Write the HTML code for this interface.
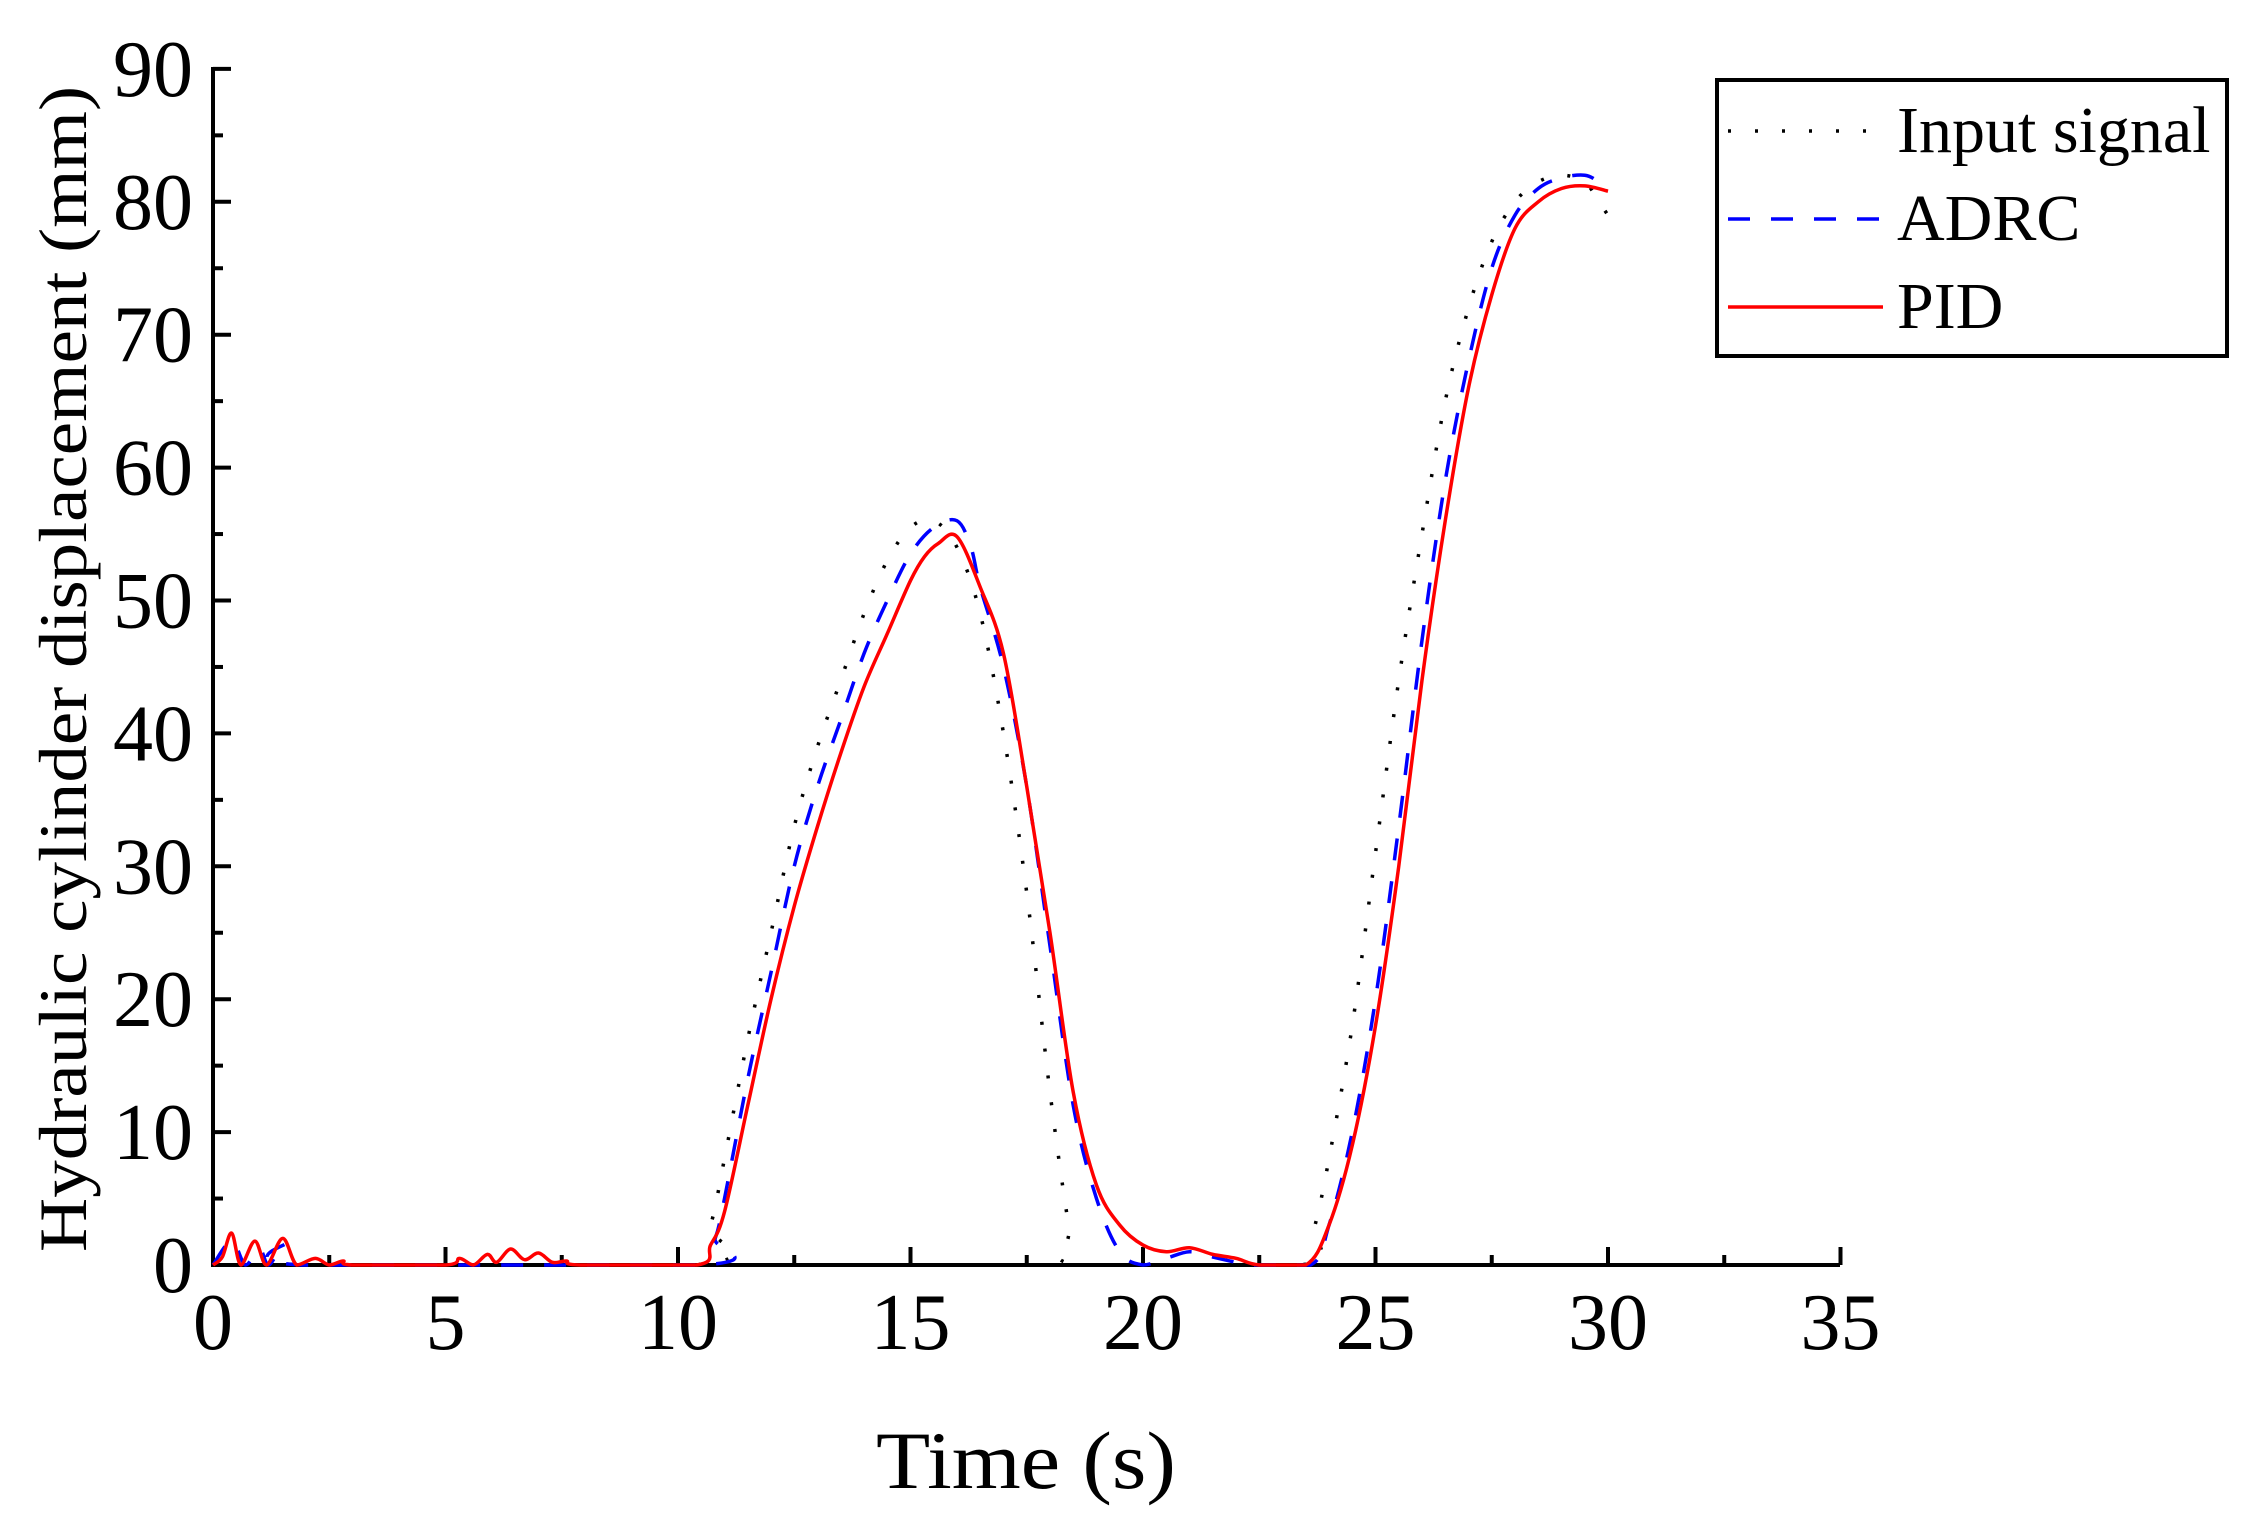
<!DOCTYPE html>
<html><head><meta charset="utf-8"><style>
html,body{margin:0;padding:0;background:#fff;}
svg{display:block;}
text{font-family:"Liberation Serif",serif;fill:#000;}
</style></head><body>
<svg id="s" width="2243" height="1515" viewBox="0 0 2243 1515" xmlns="http://www.w3.org/2000/svg">
<g id="ax" stroke="#000" stroke-width="4" fill="none"></g>
<g id="lab" font-size="80"></g>
<g id="series" fill="none"></g>
<rect x="1717" y="80" width="510" height="276" fill="none" stroke="#000" stroke-width="4"/>
<line x1="1728" y1="131" x2="1883" y2="131" stroke="#000" stroke-width="3.5" stroke-dasharray="3,24"/>
<line x1="1728" y1="219" x2="1883" y2="219" stroke="#0000ff" stroke-width="3.5" stroke-dasharray="22,21"/>
<line x1="1728" y1="307" x2="1883" y2="307" stroke="#ff0000" stroke-width="3.5"/>
<text x="1897" y="152" font-size="66">Input signal</text>
<text x="1897" y="240" font-size="66">ADRC</text>
<text x="1897" y="328" font-size="66">PID</text>
<text x="876" y="1488" font-size="82" textLength="300" lengthAdjust="spacingAndGlyphs">Time  (s)</text>
<text transform="translate(86,1252) rotate(-90)" font-size="68" textLength="1166" lengthAdjust="spacingAndGlyphs">Hydraulic cylinder displacement (mm)</text>
</svg>
<script>
var X=function(t){return 213+t*46.5;},Y=function(v){return 1265-v*13.29;};
var ns="http://www.w3.org/2000/svg";
function el(p,n,a,txt){var e=document.createElementNS(ns,n);for(var k in a)e.setAttribute(k,a[k]);if(txt!==undefined)e.textContent=txt;document.getElementById(p).appendChild(e);return e;}
el("ax","line",{x1:213,y1:67,x2:213,y2:1267});
el("ax","line",{x1:211,y1:1265,x2:1840,y2:1265});
for(var v=0;v<=90;v+=5){var L=v%10==0?18:10;el("ax","line",{x1:213,y1:Y(v),x2:213+L,y2:Y(v)});
 if(v%10==0)el("lab","text",{x:193,y:Y(v)+27,"text-anchor":"end"},String(v));}
for(var t=0;t<=35;t+=2.5){var L=t%5==0?18:10;el("ax","line",{x1:X(t),y1:1265,x2:X(t),y2:1265-L});
 if(t%5==0)el("lab","text",{x:X(t),y:1349,"text-anchor":"middle"},String(t));}
function path(pts){var P=pts.map(function(p){return [X(p[0]),Y(p[1])];});var d="M"+P[0][0]+","+P[0][1];
 var cl=function(y){return Math.min(y,1265);};
 for(var i=0;i<P.length-1;i++){var p0=P[Math.max(0,i-1)],p1=P[i],p2=P[i+1],p3=P[Math.min(P.length-1,i+2)];
 var c1=[p1[0]+(p2[0]-p0[0])/6,cl(p1[1]+(p2[1]-p0[1])/6)],c2=[p2[0]-(p3[0]-p1[0])/6,cl(p2[1]-(p3[1]-p1[1])/6)];
 if(p1[1]==1265&&p2[1]==1265){d+="L"+p2;}else d+="C"+c1+" "+c2+" "+p2;}return d;}
var inp=[[0,0],[10.3,0],[10.7,3],[11,8],[11.5,17],[12,25],[12.5,33],[13,39],[13.5,44],[14,49],[14.5,53],[15,55.5],[15.5,56],[16,54],[16.5,49],[17,40],[17.5,28],[18,13],[18.4,3],[18.6,0],[23.4,0],[23.7,3],[24,8],[24.5,18],[25,31],[25.5,44],[26,55],[26.5,65],[27,72],[27.5,77],[28,80],[28.5,81.5],[29,82],[29.5,81.5],[29.8,80],[30,79]];
var adrc=[[0,0],[0.4,1.8],[0.7,0],[1,1.2],[1.2,0],[1.55,1.6],[1.9,0],[10.5,0],[10.8,2],[11,5],[11.5,14],[12,22],[12.5,30],[13,36],[13.5,41],[14,46],[14.5,50],[15,53.5],[15.5,55.5],[16,56],[16.3,54],[16.5,51],[17,45],[17.5,36],[18,24],[18.5,12],[19,5],[19.5,1],[20,0],[20.5,0.5],[21,1],[21.5,0.6],[22,0.2],[22.3,0],[23.6,0],[24,3],[24.5,10],[25,20],[25.5,33],[26,47],[26.5,59],[27,68],[27.5,75],[28,79],[28.5,81],[29,81.8],[29.5,82],[29.8,81.5],[30,81]];
var pid=[[0,0],[0.2,0.6],[0.4,2.4],[0.6,0],[0.9,1.8],[1.15,0],[1.5,2],[1.8,0],[2.2,0.5],[2.5,0],[2.8,0.3],[3,0],[5,0],[5.3,0.5],[5.6,0],[5.9,0.8],[6.1,0.2],[6.4,1.2],[6.7,0.4],[7,0.9],[7.3,0.2],[7.6,0.3],[7.9,0],[10.4,0],[10.7,1.5],[11,4],[11.5,12],[12,20],[12.5,27],[13,33],[13.5,38.5],[14,43.5],[14.5,47.5],[15,51.5],[15.3,53.3],[15.6,54.3],[16,54.8],[16.5,51],[17,46],[17.5,36],[18,25],[18.5,13],[19,6],[19.5,3],[20,1.5],[20.5,1],[21,1.3],[21.5,0.8],[22,0.5],[22.5,0],[23.5,0],[24,3],[24.5,9],[25,18],[25.5,30],[26,44],[26.5,56],[27,66],[27.5,73],[28,78],[28.5,80],[29,81],[29.5,81.2],[30,80.8]];
el("series","path",{d:path(inp),stroke:"#000","stroke-width":3.5,"stroke-dasharray":"3,24"});
el("series","path",{d:path(adrc),stroke:"#0000ff","stroke-width":3.5,"stroke-dasharray":"22,21"});
el("series","path",{d:path(pid),stroke:"#ff0000","stroke-width":3.5});
</script>
</body></html>
